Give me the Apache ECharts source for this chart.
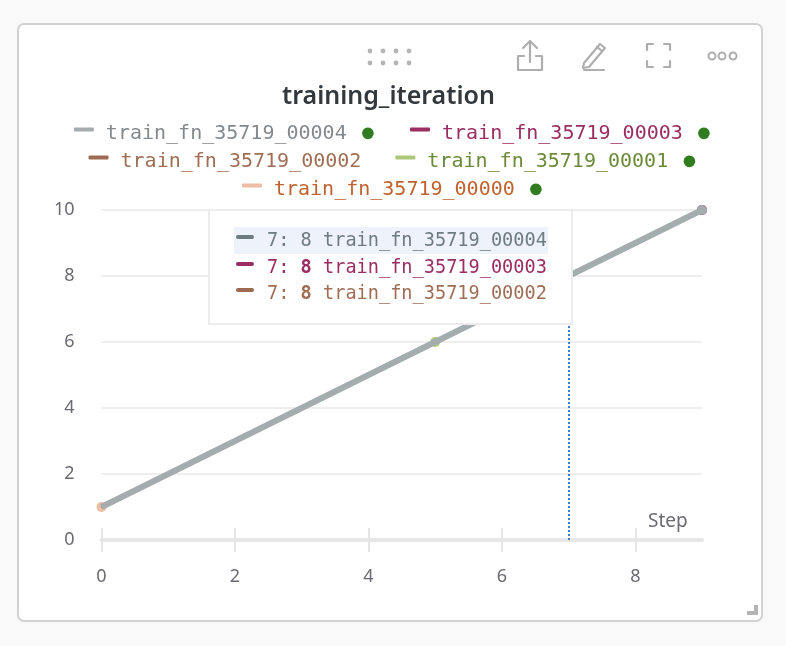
<!DOCTYPE html>
<html lang="en">
<head>
    <meta charset="UTF-8">
    <title>training_iteration</title>
    <script src="https://cdn.jsdelivr.net/npm/echarts@6/dist/echarts.min.js"></script>
    <style>
        html, body { margin: 0; background: #f9f9f9; }
        #panel { position: absolute; left: 17px; top: 23px; width: 742px; height: 595px; background: #fff; border: 2px solid #d2d2d2; border-radius: 7px; }
        #main { position: absolute; left: 0; top: 0; width: 786px; height: 646px; }
    </style>
    <script>
      // drawn bottom to top, the legend and the tooltip list them the other way round
      var seriesNames = ['train_fn_35719_00000', 'train_fn_35719_00001', 'train_fn_35719_00002', 'train_fn_35719_00003', 'train_fn_35719_00004'];
      var steps00000 = [0];
      var values00000 = [1];
      var steps00001 = [0, 1, 2, 3, 4, 5];
      var values00001 = [1, 2, 3, 4, 5, 6];
      var steps00002 = [0, 1, 2, 3, 4, 5, 6, 7, 8, 9];
      var values00002 = [1, 2, 3, 4, 5, 6, 7, 8, 9, 10];
      var steps00003 = [0, 1, 2, 3, 4, 5, 6, 7, 8, 9];
      var values00003 = [1, 2, 3, 4, 5, 6, 7, 8, 9, 10];
      var steps00004 = [0, 1, 2, 3, 4, 5, 6, 7, 8, 9];
      var values00004 = [1, 2, 3, 4, 5, 6, 7, 8, 9, 10];
      var xTicks = [0, 2, 4, 6, 8];
      var hoverStep = 7;
      var hoverValue = 8;

      var lineColors = ['#ecbda3', '#abc978', '#9e6b52', '#9a2e63', '#a4acae'];
      // the hidden lines are thinner so their edges do not bleed through the top one
      var lineWidths = [6, 5, 3, 3, 6];
      var textColors = ['#c0622e', '#6b8a3a', '#a06e55', '#9a2e63', '#84898d'];
      var tipColors = ['#c0622e', '#6b8a3a', '#a06e55', '#9a2e63', '#6f7b83'];
      var tipLineColors = ['#ecbda3', '#abc978', '#9e6b52', '#9a2e63', '#6f7b83'];
      var mono = '"DejaVu Sans Mono", monospace';
      var sans = '"Noto Sans", sans-serif';

      function zip(xs, ys) {
          return xs.map(function (x, i) { return [x, ys[i]]; });
      }

      function legendRow(names, top) {
          var rich = { d: { color: '#2f7d1f', fontSize: 27, lineHeight: 24, padding: [8, 0, 0, 13] } };
          seriesNames.forEach(function (n, i) {
              rich['t' + i] = { color: textColors[i], fontFamily: mono, fontSize: 20, lineHeight: 24, padding: [8, 0, 0, 7] };
          });
          return {
              data: names,
              top: top,
              left: 'center',
              icon: 'roundRect',
              itemWidth: 20,
              itemHeight: 4,
              itemGap: 34,
              selectedMode: false,
              formatter: function (name) {
                  var i = seriesNames.indexOf(name);
                  // 00002 has no state dot in the picture
                  return '{t' + i + '|' + name + '}' + (i === 2 ? '' : '{d|●}');
              },
              textStyle: { rich: rich }
          };
      }

      function tipRows(params) {
          var html = '';
          params.slice().reverse().forEach(function (p, k) {
              var i = p.seriesIndex;
              var weight = k === 0 ? 400 : 700;
              html += '<div style="height:26.5px;line-height:26.5px;white-space:nowrap;color:' + tipColors[i] + ';' + (k === 0 ? 'background:#eef2fa;' : '') + '">' +
                  '<span style="display:inline-block;width:18px;height:4px;border-radius:2px;margin:0 13px 7px 2px;background:' + tipLineColors[i] + '"></span>' +
                  p.value[0] + ': <b style="font-weight:' + weight + '">' + p.value[1] + '</b> ' + p.seriesName + '</div>';
          });
          return html;
      }

      function stroke(points) {
          return { type: 'polyline', shape: { points: points }, style: { fill: null, stroke: '#aeaeae', lineWidth: 2.2, lineJoin: 'round', lineCap: 'round' } };
      }

      function toolbar() {
          var items = [];
          [370, 383, 396, 409].forEach(function (x) {
              [51, 63].forEach(function (y) {
                  items.push({ type: 'circle', shape: { cx: x, cy: y, r: 2.4 }, style: { fill: '#b4b4b4' } });
              });
          });
          // share
          items.push(stroke([[524, 56], [518, 56], [518, 70], [542, 70], [542, 56], [536, 56]]));
          items.push(stroke([[530, 62], [530, 42]]));
          items.push(stroke([[523, 48], [530, 41], [537, 48]]));
          // pencil
          items.push(stroke([[584, 63], [600, 44], [605, 48], [589, 67], [583, 68], [584, 63]]));
          items.push(stroke([[597, 47], [602, 51]]));
          items.push(stroke([[584, 70], [604, 70]]));
          // fullscreen
          items.push(stroke([[647, 50], [647, 44], [653, 44]]));
          items.push(stroke([[664, 44], [670, 44], [670, 50]]));
          items.push(stroke([[647, 61], [647, 67], [653, 67]]));
          items.push(stroke([[664, 67], [670, 67], [670, 61]]));
          [712, 722, 733].forEach(function (x) {
              items.push({ type: 'circle', shape: { cx: x, cy: 56, r: 3.5 }, style: { fill: null, stroke: '#aeaeae', lineWidth: 2 } });
          });
          items.push({ type: 'polygon', shape: { points: [[754, 605], [758, 605], [758, 615], [747, 615], [747, 611], [754, 611]] }, style: { fill: '#b4b4b4' } });
          items.push({ type: 'text', x: 648, y: 512, style: { text: 'Step', fontFamily: sans, fontSize: 19, fill: '#6b6b73' } });
          return items;
      }

      window.onload = function () {
          var allSteps = [steps00000, steps00001, steps00002, steps00003, steps00004];
          var allValues = [values00000, values00001, values00002, values00003, values00004];
          var mychart = echarts.init(document.getElementById('main'));
          var option = {
              animation: false,
              title: {
                  text: 'training_iteration',
                  left: 277,
                  top: 79,
                  textStyle: { fontFamily: sans, fontSize: 25, fontWeight: 600, color: '#33383d' }
              },
              legend: [
                  legendRow([seriesNames[4], seriesNames[3]], 107),
                  legendRow([seriesNames[2], seriesNames[1]], 135),
                  legendRow([seriesNames[0]], 163)
              ],
              grid: { left: 101.5, right: 84, top: 210, bottom: 106, containLabel: false },
              tooltip: {
                  trigger: 'axis',
                  alwaysShowContent: true,
                  transitionDuration: 0,
                  position: [208, 209],
                  backgroundColor: '#fff',
                  borderColor: '#ececec',
                  borderWidth: 2,
                  padding: [16, 23, 16, 24],
                  extraCssText: 'box-shadow:none;border-radius:0;width:314px;height:80px;box-sizing:content-box;',
                  textStyle: { fontFamily: mono, fontSize: 18.6 },
                  axisPointer: { type: 'line', animation: false, lineStyle: { type: 'dotted', color: '#3b7dd8', width: 2 }, label: { show: false } },
                  formatter: tipRows
              },
              xAxis: [{
                  type: 'value',
                  min: 0,
                  max: 9,
                  interval: 2,
                  splitLine: { show: false },
                  axisLine: { onZero: false, lineStyle: { color: '#e6e6e6', width: 4 } },
                  axisTick: { length: 12, customValues: xTicks, lineStyle: { color: '#e6e6e6', width: 2 } },
                  axisLabel: { customValues: xTicks, margin: 28, fontFamily: sans, fontSize: 18, color: '#6b6b73' }
              }, {
                  type: 'value',
                  position: 'bottom',
                  min: 0,
                  max: 9,
                  interval: 2,
                  splitLine: { show: false },
                  axisPointer: { show: false },
                  axisLine: { show: false },
                  axisTick: { inside: true, length: 12, customValues: xTicks, lineStyle: { color: '#e6e6e6', width: 2 } },
                  axisLabel: { show: false }
              }],
              yAxis: {
                  type: 'value',
                  min: 0,
                  max: 10,
                  interval: 2,
                  splitLine: { lineStyle: { color: '#eeeeee', width: 2 } },
                  axisLine: { show: false },
                  axisTick: { show: false },
                  axisLabel: { margin: 27, padding: [3, 0, 0, 0], fontFamily: sans, fontSize: 18, color: '#6b6b73' }
              },
              series: seriesNames.map(function (name, i) {
                  var data = zip(allSteps[i], allValues[i]);
                  return {
                      name: name,
                      type: 'line',
                      z: i + 2,
                      data: data,
                      color: lineColors[i],
                      showAllSymbol: true,
                      symbol: 'circle',
                      symbolSize: function (v, p) { return p.dataIndex === data.length - 1 ? 10 : 0; },
                      lineStyle: { width: lineWidths[i], color: lineColors[i] },
                      itemStyle: { color: lineColors[i] },
                      emphasis: { disabled: true }
                  };
              }),
              graphic: toolbar()
          };
          mychart.setOption(option);
          var at = mychart.convertToPixel({ seriesIndex: 4 }, [hoverStep, hoverValue]);
          mychart.dispatchAction({ type: 'showTip', x: at[0], y: at[1] });
      };
    </script>
</head>
<body>
<div id="panel"></div>
<div id="main"></div>
</body>
</html>
